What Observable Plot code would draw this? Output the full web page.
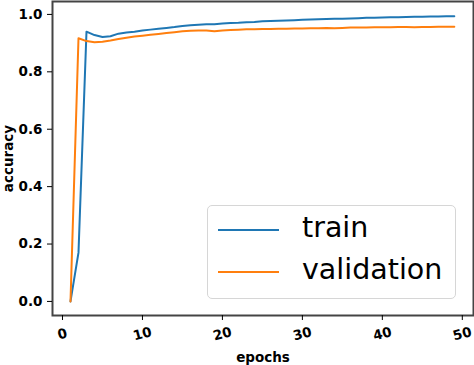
<!DOCTYPE html>
<html>
<head>
<meta charset="utf-8">
<script src="https://cdn.jsdelivr.net/npm/d3@7"></script>
<script src="https://cdn.jsdelivr.net/npm/@observablehq/plot@0.6"></script>
<style>
  body { margin: 0; background: #fff; }
  #wrap { position: relative; width: 474px; height: 365px; overflow: hidden; }
  #legend {
    position: absolute; left: 207px; top: 205px; width: 249px; height: 94px;
    border: 1px solid #d6d6d6; border-radius: 5px; background: rgba(255,255,255,0.85);
    box-sizing: border-box; font-family: "DejaVu Sans", sans-serif; font-size: 28.5px; color: #000;
  }
  .row { position: absolute; left: 0; height: 40px; }
  .swatch { position: absolute; left: 10px; width: 61px; height: 2px; }
  .lbl { position: absolute; left: 94px; line-height: 1; white-space: nowrap; }
</style>
</head>
<body>
<div id="wrap"></div>
<script>
const epochs = d3.range(1, 50);
const train = [0.00, 0.17, 0.94, 0.928, 0.921, 0.924, 0.933, 0.937, 0.940, 0.944,
  0.947, 0.950, 0.953, 0.956, 0.960, 0.962, 0.964, 0.966, 0.966, 0.968,
  0.970, 0.971, 0.973, 0.974, 0.976, 0.977, 0.978, 0.979, 0.980, 0.981,
  0.982, 0.983, 0.984, 0.985, 0.985, 0.986, 0.987, 0.988, 0.988, 0.989,
  0.990, 0.990, 0.991, 0.992, 0.992, 0.993, 0.993, 0.994, 0.994];
const validation = [0.00, 0.917, 0.907, 0.903, 0.905, 0.909, 0.914, 0.919, 0.923, 0.926,
  0.929, 0.932, 0.935, 0.938, 0.941, 0.943, 0.944, 0.944, 0.941, 0.944,
  0.946, 0.947, 0.948, 0.948, 0.949, 0.949, 0.950, 0.950, 0.951, 0.951,
  0.952, 0.952, 0.953, 0.952, 0.953, 0.954, 0.954, 0.954, 0.955, 0.955,
  0.955, 0.956, 0.956, 0.955, 0.956, 0.956, 0.957, 0.957, 0.957];
const seriesNames = ["train", "validation"];
const seriesColors = ["#1f77b4", "#ff7f0e"];
const xTicks = [0, 10, 20, 30, 40, 50];
const yTicks = [0.0, 0.2, 0.4, 0.6, 0.8, 1.0];

const rows = [];
epochs.forEach((e, i) => {
  rows.push({epoch: e, acc: train[i], series: seriesNames[0]});
  rows.push({epoch: e, acc: validation[i], series: seriesNames[1]});
});

const chart = Plot.plot({
  width: 474,
  height: 365,
  marginLeft: 52,
  marginRight: 1,
  marginTop: 1,
  marginBottom: 50,
  style: {fontFamily: "DejaVu Sans, sans-serif", fontSize: "13.5px", fontWeight: "bold", color: "#000", background: "#fff"},
  x: {domain: [-1.25, 51.4]},
  y: {domain: [-0.049, 1.045]},
  color: {domain: seriesNames, range: seriesColors},
  marks: [
    Plot.lineY(rows, {x: "epoch", y: "acc", z: "series", stroke: "series", strokeWidth: 2}),
    Plot.frame({stroke: "#444", strokeWidth: 2}),
    Plot.axisY({ticks: yTicks, tickFormat: d3.format(".1f"), tickSize: 5, tickPadding: 5,
      label: "accuracy", labelAnchor: "center", labelArrow: "none", labelOffset: 49}),
    Plot.axisX({ticks: xTicks, tickFormat: () => "", tickSize: 5, tickPadding: 8,
      label: "epochs", labelAnchor: "center", labelArrow: "none", labelOffset: 46}),
    Plot.text(xTicks, {x: d => d, text: d => String(d), frameAnchor: "bottom", dy: 18.5,
      rotate: -15, textAnchor: "middle", lineAnchor: "middle", fill: "#000",
      fontSize: 13.5, fontWeight: "bold", fontFamily: "DejaVu Sans, sans-serif"})
  ]
});

const wrap = document.getElementById("wrap");
wrap.appendChild(chart);

const legend = document.createElement("div");
legend.id = "legend";
seriesNames.forEach((name, i) => {
  const row = document.createElement("div");
  row.className = "row";
  row.style.top = (i === 0 ? 4 : 46) + "px";
  row.style.width = "100%";
  const sw = document.createElement("div");
  sw.className = "swatch";
  sw.style.background = seriesColors[i];
  sw.style.top = "19px";
  const lb = document.createElement("div");
  lb.className = "lbl";
  lb.style.top = "4px";
  lb.textContent = name;
  row.appendChild(sw);
  row.appendChild(lb);
  legend.appendChild(row);
});
wrap.appendChild(legend);
</script>
</body>
</html>
